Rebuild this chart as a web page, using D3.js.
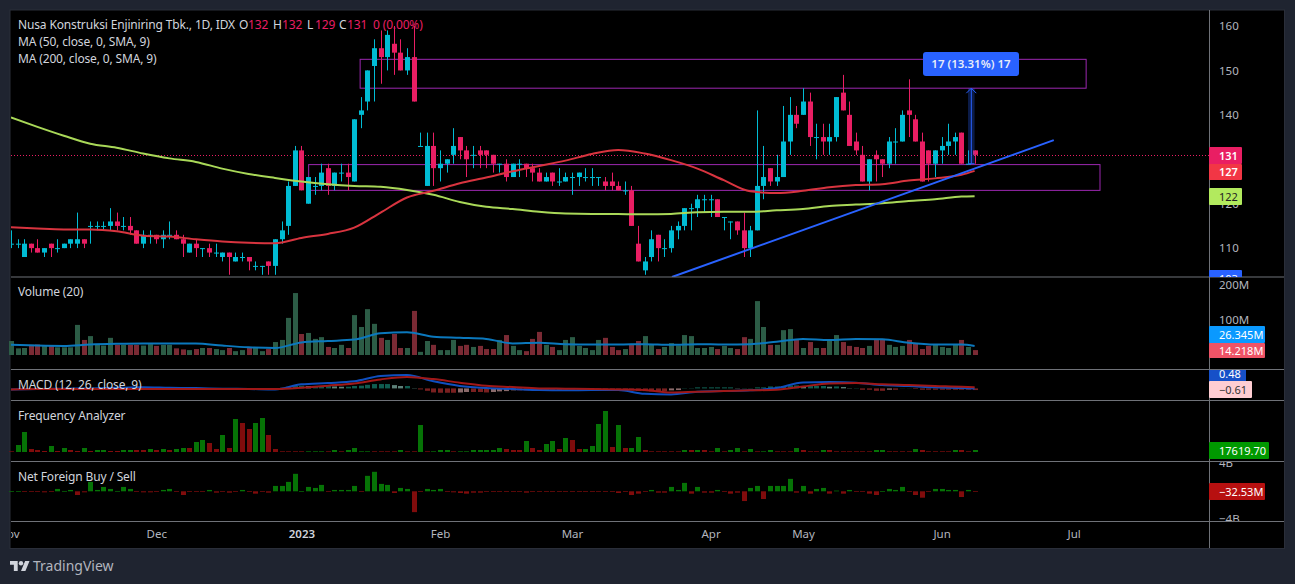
<!DOCTYPE html>
<html>
<head>
<meta charset="utf-8">
<script src="https://cdn.jsdelivr.net/npm/d3@7"></script>
<style>
body { margin: 0; background: #1f2430; }
text { font-family: "Noto Sans", sans-serif; font-size: 12px; }
.axis text { fill: #b2b5be; font-size: 11.5px; }
.axis path { display: none; }
.axisLabel text { font-size: 11px; }
</style>
</head>
<body>
<script>
// candles, one per trading day
const openP = [111,111,108,111,110,109,111,110,110,111,
111,112,115,115,115,115,116,115,115,114,
111,113,113,112,113,113,112,109,111,110,
110,109,108,109,107,108,108,106,106,107,
106,112,115,124,132,120,124,124,128,124,
127,127,125,140,143,151,155,153,156,154,
150,153,133,124,133,128,129,131,135,132,
131,132,132,131,129,129,126,129,129,128,
127,125,127,125,125,126,126,126,126,126,
125,125,124,123,123,111,105,108,113,110,
110,114,115,119,119,121,121,121,117,116,
116,114,110,114,124,128,125,126,134,140,
140,143,135,135,134,135,145,140,134,131,
125,131,130,129,134,134,141,139,134,132,
129,132,133,134,136,129,132];
const highP = [114,112,112,111,112,110,111,112,111,112,
118,112,116,116,116,119,118,117,117,114,
114,114,113,114,116,114,113,111,112,110,
111,111,109,109,109,109,108,107,106,107,
112,116,125,133,133,126,126,129,129,127,
129,129,139,144,150,157,159,159,160,157,
155,160,136,136,136,132,130,137,135,133,
133,133,132,131,129,130,129,130,129,129,
128,127,127,128,127,127,127,128,128,126,
126,127,125,125,124,115,108,114,113,112,
115,116,119,120,122,122,122,121,117,116,
116,118,115,141,133,128,131,142,144,142,
146,145,138,138,138,144,149,143,136,133,
130,132,130,135,137,141,148,140,136,132,
132,135,138,136,136,132,132];
const lowP = [110,110,108,109,109,108,108,109,110,110,
110,110,111,114,114,114,114,114,113,111,
110,111,111,110,112,112,108,109,108,108,
108,108,107,104,107,107,105,105,104,104,
104,111,113,124,123,120,122,123,122,123,
125,123,125,137,141,143,147,150,149,150,
149,143,133,124,124,125,127,129,130,126,
128,128,128,127,127,125,126,126,126,125,
125,125,124,124,125,122,124,125,124,124,
123,123,123,122,115,107,104,107,107,108,
109,112,114,114,117,118,117,117,114,112,
113,108,108,114,121,124,124,126,131,137,
140,133,130,131,131,134,141,133,131,125,
123,125,126,128,129,134,135,134,125,125,
126,129,131,131,129,129,129];
const closeP = [111,111,111,110,109,110,110,110,111,112,
112,111,115,115,115,116,115,115,114,111,
113,113,112,113,113,112,111,111,110,110,
109,109,109,108,108,108,107,106,106,106,
112,114,124,132,123,126,124,127,124,127,
127,126,139,141,150,155,153,158,154,150,
153,143,133,133,128,129,130,133,132,130,
131,131,131,129,129,126,129,129,128,127,
125,126,125,125,126,126,127,126,126,126,
124,124,123,123,115,107,107,112,110,110,
114,115,119,119,121,121,121,117,117,116,
114,110,114,124,126,125,126,134,140,138,
143,135,135,134,135,144,141,133,132,125,
130,130,129,134,134,140,140,134,125,129,
132,133,134,135,129,129,131];

// volume in millions, g = green bar, r = red bar
const volume = [40,19,20,29,30,26,27,22,22,22,
86,43,54,29,27,49,29,29,29,29,
27,31,26,29,29,19,16,14,17,20,
20,17,14,20,11,14,20,20,11,17,
37,43,106,177,60,63,46,51,23,20,
29,20,114,80,131,89,49,43,60,20,
20,126,9,40,29,14,14,43,26,29,
23,26,17,17,43,57,26,14,11,46,
66,29,23,14,43,51,26,20,14,43,
49,23,14,17,31,40,54,31,17,23,
34,27,57,54,20,20,23,17,26,20,
17,51,46,154,80,29,29,71,74,45,
20,37,20,20,43,57,37,26,23,20,
26,46,46,29,23,26,43,34,17,26,
31,23,20,31,43,23,14];
const volumeDir = "gggrrgrggggrggggrgrrggrggrrgrgrggrggrggrggggrgggrggrggggrgrrgrggrgggrrgrrrgrggrrrgrgggggggrrrgrrggrggggggggrggrrgggrgggrgrgrggrrrrgrrgggrrrrggggrgr";

// frequency analyzer, thousands
const freq = [6,63,180,27,18,9,54,9,36,18,
9,36,9,18,18,9,9,18,18,18,
18,27,18,27,18,27,36,36,90,108,
81,27,153,36,297,261,207,261,306,153,
27,6,6,6,6,6,6,6,6,18,
6,18,36,6,6,6,6,6,6,18,
6,6,243,6,6,18,18,6,6,6,
18,18,18,18,36,27,18,18,99,36,
18,72,99,27,126,108,27,27,54,252,
369,45,243,36,36,135,18,6,6,6,
6,6,18,18,18,18,6,36,6,18,
36,6,27,6,6,18,6,6,6,36,
18,6,6,18,18,6,6,6,6,6,
6,18,18,6,6,6,6,27,18,6,
6,6,6,18,18,6,18];
const freqDir = "rggrrrgrgrrgrggrrggrrgrgrggrggrrgrgrrggrrrrrrgggrgrggggrrrrgrrgrgggrgggggggrrrgrrggrgrrggggrgrggrrrrrrgrgrrgrggrgrggrrrgrrrgrrrrrrrggrrrrgrrrrrgrrg";

// net foreign buy / sell, millions
const netForeign = [10,10,-10,-10,-10,-144,-10,336,48,192,
-528,-144,1344,192,624,336,48,624,336,-10,
-144,-144,-96,192,336,-10,-528,-10,-10,-10,
192,-192,-10,-192,-10,192,-10,-336,-10,-192,
768,768,1344,2496,10,624,480,912,-10,192,
192,192,768,-10,2208,2784,1056,912,-240,480,
336,-2976,-10,336,192,336,-10,-144,-240,-336,
-192,-192,-10,-10,-10,-10,-10,-10,-192,-10,
-10,-10,-10,-10,-10,-10,-10,-10,-10,-10,
-10,-10,-240,-10,-528,-336,-10,192,-192,-192,
624,192,1200,-336,624,-192,-192,192,-10,-336,
-192,-1392,480,768,-1104,768,768,768,1776,-192,
768,-336,336,480,-336,96,-336,192,-10,-10,
-336,-528,10,336,192,624,-10,-528,-912,-10,
336,336,192,192,-816,192,-33];

// macd histogram
const macdHist = [0,0,0,0,0,0,0,0,0,0,
0,0,0,0,0,0,0,0,0,0,
0,0,0,0,0,0,0,.2,.2,.2,
.2,.2,.2,.2,.2,.2,.2,.2,.2,.2,
.2,.4,1.1,1.6,1.8,1.6,1.6,1.6,1.8,1.3,
1.1,1.1,1.6,1.8,2.4,2.9,2.9,2.9,2.2,1.6,
1.6,.2,-.7,-1.6,-2.7,-2.9,-2.9,-2.9,-2.7,-2.4,
-2.4,-2.4,-2.7,-2.4,-2,-1.8,-1.3,-1.3,-1.3,-1.1,
-.9,-.9,-.9,-.7,-.7,-.7,-.7,-.7,-.7,-.7,
-.7,-.9,-.9,-1.1,-1.3,-1.6,-1.8,-2,-2,-2,
-1.3,-1.1,.2,.2,.7,.7,.7,.7,.7,.7,
.2,.2,.2,.7,.7,1.3,1.3,1.6,2,2,
1.6,1.6,1.6,1.6,1.1,1.3,.9,.2,.2,-.9,
-.9,-1.6,-1.6,-.9,-.9,.1,.1,-.4,-.9,-.9,
-.9,-.9,-.9,-.9,-.9,-.9,-1.1];

const lineBars = d3.range(0, 145, 4).concat([146]);
const ma50 = [114.7,114.4,114.2,114.2,113.8,112.8,112.6,112.0,111.5,111.2,
111.1,112.3,113.2,114.6,118.0,121.4,122.9,124.6,125.9,127.3,
128.5,129.7,131.2,132.1,131.3,129.8,127.9,125.3,122.8,122.4,
122.9,123.7,124.2,124.4,125.2,125.7,126.5,127.4];
const ma200 = [139.4,137.3,135.3,133.5,132.6,131.3,130.2,129.4,127.9,126.7,
125.8,125.0,124.4,124.0,123.8,123.1,122.0,120.4,119.3,118.8,
118.2,117.8,117.7,117.7,117.6,117.7,118.1,118.2,118.2,118.5,
118.8,119.5,119.8,120.1,120.6,121.0,121.6,121.7];
const volumeMa = [29,27,26,30,32,33,33,33,27,22,
20,36,40,44,62,65,52,49,46,33,
35,31,30,30,31,29,31,30,31,38,
46,43,46,45,35,30,30,26];
const macdLine = [-.7,-.4,-.2,0,.4,.7,.4,.2,-.2,-.4,
-.7,2.7,3.6,4.7,8.2,8.9,4.7,1.6,.2,-.4,
-1.1,-1.3,-1.1,-1.1,-3.6,-4,-2.2,-1.8,-1.3,.2,
4,4.2,3.8,2.2,1.6,.7,.2,0];
const signalLine = [-.7,-.4,-.4,-.4,-.4,-.4,-.4,-.4,-.4,-.4,
-.4,.4,1.8,3.3,6,7.6,6.2,3.8,1.8,.9,
0,-.2,-.4,-.7,-1.1,-2.7,-2.2,-1.8,-1.3,-.9,
1.3,3.3,3.6,2.7,2.2,1.6,1.1,.7];

const priceTicks = [160, 150, 140, 120, 110];
const monthBars = [-.4, 22, 44, 65, 85, 106, 120, 141, 161];
const monthNames = ["Nov", "Dec", "2023", "Feb", "Mar", "Apr", "May", "Jun", "Jul"];

// drawings: [bar, price] corners
const boxes = [
  { from: [52.9, 152.5], to: [162.9, 146] },
  { from: [45.1, 128.8], to: [165, 123] }
];
const trend = [[100.15, 103.5], [158, 134.3]];

const W = 1295, H = 584;
const left = 11, axisX = 1209, right = 1284;
const paneLines = [277, 369.5, 400.5, 461.5, 521.5];
const up = "#00bcd4", down = "#e91e63";

const x = d3.scaleLinear().domain([0, 146]).range([11, 974.6]);
const yPrice = d3.scaleLinear().domain([160, 103.5]).range([26, 277]);
const yVol = d3.scaleLinear().domain([0, 200]).range([355, 285]);
const yMacd = d3.scaleLinear().domain([0, 8]).range([388.4, 376.4]);
const yFreq = d3.scaleLinear().domain([0, 369]).range([452, 411]);
const yNet = d3.scaleLinear().domain([-4000, 4000]).range([519.3, 463.3]);

const svg = d3.select("body").append("svg").attr("width", W).attr("height", H)
  .style("display", "block");
svg.append("rect").attr("width", W).attr("height", H).attr("fill", "#1f2430");
svg.append("rect").attr("x", left - 1).attr("y", 10).attr("width", right - left + 1.5).attr("height", 538.5)
  .attr("fill", "#000").attr("stroke", "#2a2e39");

const defs = svg.append("defs");
function addClip(id, x0, y0, x1, y1) {
  defs.append("clipPath").attr("id", id).append("rect")
    .attr("x", x0).attr("y", y0).attr("width", x1 - x0).attr("height", y1 - y0);
}
addClip("main", left, 10, axisX, 277);
addClip("mainAxis", axisX, 10, right, 277);
addClip("macdAxis", axisX, 370, right, 400);
addClip("netAxis", axisX, 462, right, 521);
addClip("time", left, 522, axisX, 548);

const barW = 5;
function crisp(v) { return Math.round(v) + 0.5; }

// main pane
const main = svg.append("g").attr("clip-path", "url(#main)");

main.selectAll(".box").data(boxes).join("rect").attr("class", "box")
  .attr("x", d => x(d.from[0])).attr("y", d => yPrice(d.from[1]))
  .attr("width", d => x(d.to[0]) - x(d.from[0]))
  .attr("height", d => yPrice(d.to[1]) - yPrice(d.from[1]))
  .attr("fill", "none").attr("stroke", "#9c27b0").attr("stroke-width", 1);

main.append("line").attr("x1", left).attr("x2", axisX)
  .attr("y1", crisp(yPrice(131))).attr("y2", crisp(yPrice(131)))
  .attr("stroke", down).attr("stroke-dasharray", "1 2");

const candles = main.selectAll(".candle").data(d3.range(openP.length)).join("g").attr("class", "candle");
candles.append("line")
  .attr("x1", i => crisp(x(i))).attr("x2", i => crisp(x(i)))
  .attr("y1", i => yPrice(highP[i])).attr("y2", i => yPrice(lowP[i]))
  .attr("stroke", i => closeP[i] >= openP[i] ? up : down);
candles.append("rect")
  .attr("x", i => crisp(x(i)) - barW / 2)
  .attr("y", i => yPrice(Math.max(openP[i], closeP[i])))
  .attr("width", barW)
  .attr("height", i => Math.max(1, Math.abs(yPrice(openP[i]) - yPrice(closeP[i]))))
  .attr("fill", i => closeP[i] >= openP[i] ? up : down);

function seriesLine(scale) {
  return d3.line().x((d, k) => x(lineBars[k])).y(d => scale(d)).curve(d3.curveMonotoneX);
}
main.append("path").datum(ma200).attr("d", seriesLine(yPrice))
  .attr("fill", "none").attr("stroke", "#a9d858").attr("stroke-width", 2);
main.append("path").datum(ma50).attr("d", seriesLine(yPrice))
  .attr("fill", "none").attr("stroke", "#d8343f").attr("stroke-width", 2);

main.append("line")
  .attr("x1", x(trend[0][0])).attr("y1", yPrice(trend[0][1]))
  .attr("x2", x(trend[1][0])).attr("y2", yPrice(trend[1][1]))
  .attr("stroke", "#2962ff").attr("stroke-width", 2);

// measure tool on the last bars
const measure = main.append("g");
measure.append("rect").attr("x", x(145)).attr("width", x(146) - x(145))
  .attr("y", yPrice(146)).attr("height", yPrice(129) - yPrice(146))
  .attr("fill", "#2962ff").attr("fill-opacity", 0.28);
measure.append("line").attr("x1", x(145)).attr("x2", x(146))
  .attr("y1", yPrice(129)).attr("y2", yPrice(129)).attr("stroke", "#2962ff");
measure.append("line").attr("x1", x(145.5)).attr("x2", x(145.5))
  .attr("y1", yPrice(129)).attr("y2", yPrice(146)).attr("stroke", "#2962ff");
measure.append("path")
  .attr("d", d3.line()([[x(145.5) - 5, yPrice(146) + 5], [x(145.5), yPrice(146)], [x(145.5) + 5, yPrice(146) + 5]]))
  .attr("fill", "none").attr("stroke", "#2962ff");
measure.append("rect").attr("x", 923).attr("y", 52).attr("width", 96).attr("height", 24).attr("rx", 3)
  .attr("fill", "#2962ff");
measure.append("text").attr("x", 971).attr("y", 68).attr("text-anchor", "middle")
  .attr("fill", "#e8ecf8").attr("font-weight", 600).style("font-size", "11.5px").text("17 (13.31%) 17");

// volume pane
svg.append("g").selectAll("rect").data(volume).join("rect")
  .attr("x", (d, i) => crisp(x(i)) - barW / 2).attr("width", barW)
  .attr("y", d => yVol(d)).attr("height", d => yVol(0) - yVol(d))
  .attr("fill", (d, i) => volumeDir[i] === "g" ? "#2c5c46" : "#7a2a34");
svg.append("path").datum(volumeMa).attr("d", seriesLine(yVol))
  .attr("fill", "none").attr("stroke", "#0b78bd").attr("stroke-width", 2);

// macd pane
function histColor(d, i) {
  const prev = i > 0 ? macdHist[i - 1] : 0;
  if (d >= 0) return d >= prev ? "#0f5c50" : "#5e8078";
  return d <= prev ? "#7a2020" : "#8a6a6a";
}
svg.append("g").selectAll("rect").data(macdHist).join("rect")
  .attr("x", (d, i) => crisp(x(i)) - barW / 2).attr("width", barW)
  .attr("y", d => Math.min(yMacd(d), yMacd(0)))
  .attr("height", d => Math.abs(yMacd(d) - yMacd(0)))
  .attr("fill", histColor);
svg.append("path").datum(macdLine).attr("d", seriesLine(yMacd))
  .attr("fill", "none").attr("stroke", "#0f4fbf").attr("stroke-width", 2);
svg.append("path").datum(signalLine).attr("d", seriesLine(yMacd))
  .attr("fill", "none").attr("stroke", "#a01818").attr("stroke-width", 2);

// frequency analyzer pane
svg.append("g").selectAll("rect").data(freq).join("rect")
  .attr("x", (d, i) => crisp(x(i)) - barW / 2).attr("width", barW)
  .attr("y", d => yFreq(d)).attr("height", d => yFreq(0) - yFreq(d))
  .attr("fill", (d, i) => freqDir[i] === "g" ? "#067306" : "#800c0c");

// net foreign pane
svg.append("g").selectAll("rect").data(netForeign).join("rect")
  .attr("x", (d, i) => crisp(x(i)) - barW / 2).attr("width", barW)
  .attr("y", d => d > 0 ? yNet(d) : yNet(0))
  .attr("height", d => Math.max(0.7, Math.abs(yNet(d) - yNet(0))))
  .attr("fill", d => d > 0 ? "#067306" : "#800c0c");

// pane dividers and price axis edge
svg.selectAll(".pane").data(paneLines).join("line").attr("class", "pane")
  .attr("x1", left).attr("x2", right).attr("y1", d => d).attr("y2", d => d)
  .attr("stroke", "#6f7278");
svg.append("line").attr("x1", axisX + 0.5).attr("x2", axisX + 0.5).attr("y1", 10).attr("y2", 548)
  .attr("stroke", "#6f7278");

// axes
svg.append("g").attr("class", "axis").attr("clip-path", "url(#mainAxis)").append("g")
  .attr("transform", `translate(${axisX},0)`)
  .call(d3.axisRight(yPrice).tickValues(priceTicks).tickSize(0).tickPadding(10));
svg.append("g").attr("class", "axis")
  .attr("transform", `translate(${axisX},0)`)
  .call(d3.axisRight(yVol).tickValues([100, 200]).tickFormat(d => d + "M").tickSize(0).tickPadding(10));
svg.append("g").attr("class", "axis").attr("clip-path", "url(#netAxis)").append("g")
  .attr("transform", `translate(${axisX},0)`)
  .call(d3.axisRight(yNet).tickValues([-4000, 4000])
    .tickFormat(d => (d < 0 ? "\u22124" : "4") + "B").tickSize(0).tickPadding(10));
const timeAxis = svg.append("g").attr("class", "axis").attr("clip-path", "url(#time)").append("g")
  .attr("transform", "translate(0,526)")
  .call(d3.axisBottom(x).tickValues(monthBars).tickFormat((d, i) => monthNames[i]).tickSize(0).tickPadding(4));
timeAxis.selectAll("text").filter((d, i) => monthNames[i] === "2023")
  .attr("font-weight", 600).style("fill", "#d1d4dc");

// last value labels on the axis
const axisLabels = [
  { text: "131", y: 147, h: 17, w: 33, bg: "#e91e63", fg: "#fff", bold: 600, clip: "mainAxis" },
  { text: "127", y: 164, h: 16, w: 33, bg: "#f23645", fg: "#fff", bold: 600, clip: "mainAxis" },
  { text: "122", y: 188, h: 17, w: 33, bg: "#b2ea5e", fg: "#222", bold: 400, clip: "mainAxis" },
  { text: "103", y: 270, h: 17, w: 33, bg: "#2962ff", fg: "#fff", bold: 400, clip: "mainAxis" },
  { text: "26.345M", y: 326, h: 17, w: 56, bg: "#0a99ff", fg: "#fff", bold: 400 },
  { text: "14.218M", y: 343, h: 15, w: 56, bg: "#ef5366", fg: "#fff", bold: 400 },
  { text: "0.48", y: 365, h: 17, w: 37, bg: "#1650c8", fg: "#fff", bold: 400, clip: "macdAxis" },
  { text: "\u22120.61", y: 381, h: 17, w: 43, bg: "#ffcdd2", fg: "#333", bold: 400 },
  { text: "17619.70", y: 442, h: 17, w: 60, bg: "#009900", fg: "#fff", bold: 400 },
  { text: "\u221232.53M", y: 483, h: 17, w: 56, bg: "#b71010", fg: "#fff", bold: 400 }
];
const labelG = svg.selectAll(".axisLabel").data(axisLabels).join("g").attr("class", "axisLabel")
  .attr("clip-path", d => d.clip ? `url(#${d.clip})` : null);
labelG.append("rect").attr("x", axisX).attr("y", d => d.y).attr("width", d => d.w).attr("height", d => d.h)
  .attr("rx", 1).attr("fill", d => d.bg);
labelG.append("text").attr("x", axisX + 10).attr("y", d => d.y + d.h / 2 + 4)
  .attr("fill", d => d.fg).attr("font-weight", d => d.bold).text(d => d.text);

// pane legends
const legend = svg.append("g").attr("fill", "#d1d4dc").style("letter-spacing", "-0.15px");
const legendRows = [
  ["Nusa Konstruksi Enjiniring Tbk., 1D, IDX", 29],
  ["MA (50, close, 0, SMA, 9)", 46],
  ["MA (200, close, 0, SMA, 9)", 63],
  ["Volume (20)", 296],
  ["MACD (12, 26, close, 9)", 389],
  ["Frequency Analyzer", 420],
  ["Net Foreign Buy / Sell", 481]
];
legend.selectAll("text").data(legendRows).join("text")
  .attr("x", 18).attr("y", d => d[1]).text(d => d[0]);
const ohlcParts = [
  ["O", 239, "#d1d4dc"], ["132", 248, down], ["H", 273, "#d1d4dc"], ["132", 282, down],
  ["L", 307, "#d1d4dc"], ["129", 315, down], ["C", 339, "#d1d4dc"], ["131", 347, down],
  ["0 (0.00%)", 373, down]
];
svg.append("g").style("letter-spacing", "-0.15px").selectAll("text").data(ohlcParts).join("text")
  .attr("x", d => d[1]).attr("y", 29).attr("fill", d => d[2]).text(d => d[0]);

// footer logo
const logo = svg.append("g").attr("transform", "translate(10,558.8) scale(0.55)").attr("fill", "#d1d4dc");
logo.append("path").attr("d", "M14 22H7V11H0V4h14v18zM28 22h-8l7.5-18h8L28 22z");
logo.append("circle").attr("cx", 20).attr("cy", 8).attr("r", 4);
svg.append("text").attr("x", 33).attr("y", 571).attr("fill", "#b2b5be").style("font-size", "14px").text("TradingView");
</script>
</body>
</html>
